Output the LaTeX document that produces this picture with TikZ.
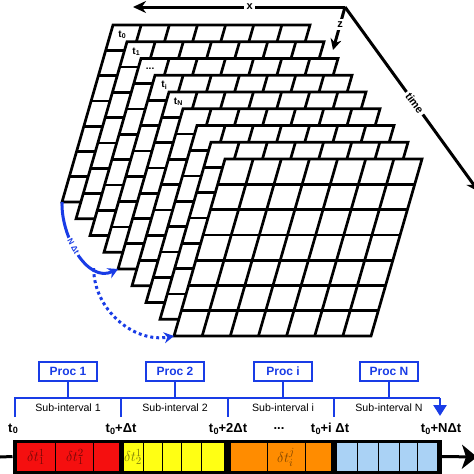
\documentclass[tikz,border=0pt]{standalone}
\usepackage{fontspec}
\setmainfont{Liberation Sans}
\usetikzlibrary{arrows.meta}
\definecolor{procblue}{RGB}{25,60,230}
\definecolor{cellred}{RGB}{245,15,15}
\definecolor{cellyellow}{RGB}{255,255,20}
\definecolor{cellorange}{RGB}{255,140,0}
\definecolor{cellblue}{RGB}{170,210,245}
\newcommand{\tsub}[1]{t\kern0.3pt\raisebox{-0.2ex}{\scalebox{0.7}{#1}}}

\begin{document}
\begin{tikzpicture}[x=1pt,y=-1pt,
  gridline/.style={line width=2.7pt},
  axisline/.style={line width=3pt},
  axlab/.style={fill=white, inner sep=2.5pt, font=\bfseries\fontsize{11}{11}\selectfont},
  blueline/.style={draw=procblue, line width=3pt},
  bluebar/.style={draw=procblue, line width=2.6pt},
  procbox/.style={draw=procblue, line width=2pt, text=procblue, font=\bfseries\fontsize{12}{12}\selectfont, minimum width=58pt, minimum height=19pt, inner sep=0pt},
  sublab/.style={font=\fontsize{10.6}{11}\selectfont},
  timelab/.style={font=\bfseries\fontsize{13}{13}\selectfont},
  gridlab/.style={font=\bfseries\fontsize{10}{10}\selectfont, inner sep=0pt},
  celllab/.style={text=black, text opacity=0.5, inner sep=0pt, font=\fontsize{15}{15}\selectfont},
]
\useasboundingbox (0,0) rectangle (474,474);

% stack of grids, back to front
\foreach \k in {0,...,8}{
  \begin{scope}[shift={(113+14*\k,25+16.75*\k)}, xslant=0.288]
    \fill[white] (0,0) -- (197,0) -- (197,177) -- (0,177) -- cycle;
    \foreach \c in {1,...,6} \draw[gridline] (\c*28.14,0) -- (\c*28.14,177);
    \foreach \r in {1,...,6} \draw[gridline] (0,\r*25.29) -- (197,\r*25.29);
    \draw[gridline] (0,0) -- (197,0) -- (197,177) -- (0,177) -- cycle;
    \coordinate (bl\k) at (0,177);
    \coordinate (tl\k) at (12,10);
  \end{scope}
}
\foreach \k/\lab in {0/{\tsub{0}}, 1/{\tsub{1}}, 2/{...}, 3/{\tsub{i}}, 4/{\tsub{N}}}
  \node[gridlab] (lab\k) at (tl\k) {\lab};

% axes x, z, time
\coordinate (orig) at (345,7);
\coordinate (xend) at (133,7);
\coordinate (zend) at (333,50);
\coordinate (tend) at (479,192);
\draw[axisline,-{Stealth[length=13pt,width=12pt]}] (orig) -- node[axlab, pos=0.45] {x} (xend);
\draw[axisline,-{Stealth[length=11pt,width=11pt]}] (orig) -- node[axlab, pos=0.4] {z} (zend);
\draw[axisline,-{Stealth[length=13pt,width=12pt]}] (orig) -- node[axlab, pos=0.52, sloped] {time} (tend);

% blue arrows between grids
\draw[blueline,-{Stealth[length=10pt,width=11pt]}] (bl0) to[out=-92,in=205]
  node[pos=0.42, sloped, fill=white, inner sep=1.5pt, text=procblue, font=\bfseries\fontsize{8}{8}\selectfont] {N Δt}
  coordinate[pos=0.72] (split) (bl4);
\draw[blueline, dash pattern=on 3pt off 3pt, -{Stealth[length=10pt,width=11pt]}] (split) to[out=-90,in=190] (bl8);

% processors and sub-intervals
\foreach \i/\x/\n in {1/68/1, 2/175/2, 3/283/i, 4/389/N}{
  \node[procbox] (proc\i) at (\x,371) {Proc \n};
  \coordinate (stem\i) at (\x,398);
  \draw[bluebar] (proc\i) -- (stem\i);
  \node[sublab] (sub\i) at (\x,408) {Sub-interval \n};
}
\foreach \j/\x in {a/15, b/121, c/228, d/334}{
  \coordinate (top\j) at (\x,398);
  \coordinate (bot\j) at (\x,417);
}
\coordinate (brend) at (440,398);
\coordinate (brtip) at (440,416);
\draw[bluebar] (bota) -- (topa) -- (brend);
\foreach \j in {b,c,d} \draw[bluebar] (top\j) -- (bot\j);
\draw[bluebar,-{Triangle[length=11pt,width=13pt]}] (brend) -- (brtip);

% time labels
\node[timelab] (ta) at (13,429) {\tsub{0}};
\node[timelab] (tb) at (121,429) {\tsub{0}+Δt};
\node[timelab] (tc) at (228,429) {\tsub{0}+2Δt};
\node[timelab] (tdots) at (279,429) {...};
\node[timelab] (td) at (330,429) {\tsub{0}+i Δt};
\node[timelab] (te) at (441,429) {\tsub{0}+NΔt};

% time bar
\fill[black] (14,441) rectangle (440,472);
\foreach \a/\b/\c in {16/55/cellred, 55/93/cellred, 93/119/cellred,
  123/143/cellyellow, 143/162/cellyellow, 162/181/cellyellow, 181/201/cellyellow, 201/224/cellyellow,
  230/267/cellorange, 267/305/cellorange, 305/331/cellorange,
  336/357/cellblue, 357/378/cellblue, 378/399/cellblue, 399/417/cellblue, 417/437/cellblue}
  \fill[\c] (\a+0.5,442) rectangle (\b-0.5,471);
\node[draw, line width=3pt, minimum width=426pt, minimum height=31pt, inner sep=0pt] (bar) at (227,456.5) {};
\coordinate (axL) at (0,457);
\coordinate (axR) at (477,457);
\draw[axisline] (axL) -- (bar.west);
\draw[axisline,-{Stealth[length=15pt,width=24pt,inset=4pt]}] (bar.east) -- (axR);

\node[celllab] (d11) at (36,457) {$\delta t^{1}_{1}$};
\node[celllab] (d21) at (75,457) {$\delta t^{2}_{1}$};
\node[celllab] (d12) at (133,457) {$\delta t^{1}_{2}$};
\node[celllab] (dij) at (286,457) {$\delta t^{j}_{i}$};

\end{tikzpicture}
\end{document}
